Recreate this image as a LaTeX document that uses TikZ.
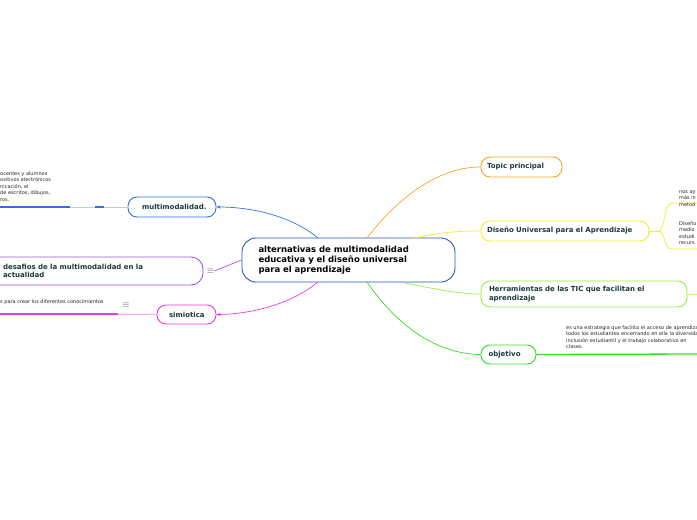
\documentclass[tikz,border=0pt]{standalone}
\usepackage{fontspec}
\setmainfont{DejaVu Sans}
\usetikzlibrary{arrows.meta}
\definecolor{txt}{HTML}{1B3A3A}
\definecolor{cblue}{HTML}{2F6FE6}
\definecolor{cpurp}{HTML}{9B55F0}
\definecolor{cmag}{HTML}{E83AE8}
\definecolor{corg}{HTML}{F5A623}
\definecolor{cyel}{HTML}{EEEE22}
\definecolor{clg}{HTML}{99EE44}
\definecolor{cgr}{HTML}{33DD22}
\tikzset{
 box/.style={draw, rounded corners=9pt, line width=0.9pt, fill=white, text=txt, font=\bfseries\fontsize{7}{8.5}\selectfont, align=left, inner sep=0pt},
 small/.style={font=\fontsize{5}{6.6}\selectfont, align=left, inner sep=0pt, text=black!85},
 menu/.style={font=\fontsize{9}{9}\selectfont, inner sep=0pt, text=black!70},
}
\begin{document}
\begin{tikzpicture}[x=1pt,y=-1pt]
\useasboundingbox (0,0) rectangle (697,520);
\begin{scope}
\clip (0,0) rectangle (697,520);
% central
\node[box, draw=cblue!80!black, rounded corners=14pt, minimum width=213pt, minimum height=44pt, font=\bfseries\fontsize{8.5}{10}\selectfont, text=black, text width=180pt] (c) at (348.5,260) {alternativas de multimodalidad\\educativa y el diseño universal\\para el aprendizaje};
% right
\node[box, draw=corg, minimum width=81pt, minimum height=20pt, text width=69pt] (t) at (521.5,167) {Topic principal};
\node[box, draw=cyel, minimum width=168pt, minimum height=20pt, text width=156pt] (d) at (565,231) {Diseño Universal para el Aprendizaje};
\node[box, draw=clg, minimum width=206pt, minimum height=26pt, text width=190pt] (h) at (584,294) {Herramientas de las TIC que facilitan el\\aprendizaje};
\node[box, draw=cgr, minimum width=55pt, minimum height=19pt, text width=40pt] (o) at (508.5,354.5) {objetivo};
% left
\node[box, draw=cblue, minimum width=88pt, minimum height=20pt, text width=60pt] (m) at (172,207) {multimodalidad.};
\node[box, draw=cpurp, rounded corners=12pt, minimum width=215pt, minimum height=28pt, text width=185pt] (ds) at (95.5,271) {desafios de la multimodalidad en la\\actualidad};
\node[box, draw=cmag, minimum width=59pt, minimum height=19pt, text width=35pt] (s) at (186.5,314.5) {simiotica};
\node[menu] (mn1) at (210.5,271) {$\equiv$};
\node[menu] (mn2) at (126,305) {$\equiv$};
% connectors
\coordinate (c1) at (367,238);
\coordinate (c2) at (410,239);
\coordinate (c3) at (405,283);
\coordinate (c4) at (367,282);
\coordinate (c5) at (318,238);
\coordinate (c6) at (318,282);
\draw[corg, line width=0.7pt] (c1) .. controls (400,195) and (440,167) .. (t.west);
\draw[cyel, line width=0.7pt] (c2) .. controls (440,232) and (460,231) .. (d.west);
\draw[clg, line width=0.7pt] (c3) .. controls (440,290) and (460,294) .. (h.west);
\draw[cgr, line width=0.7pt] (c4) .. controls (400,330) and (440,354) .. (o.west);
\draw[cblue, line width=0.7pt, -{Stealth[length=4pt]}] (c5) .. controls (290,215) and (250,207) .. (m.east);
\draw[cpurp, line width=0.7pt] (c.west) -- (mn1.east);
\draw[cmag, line width=0.7pt, -{Stealth[length=4pt]}] (c6) .. controls (290,305) and (250,314) .. (s.east);
% left details
\coordinate (ml) at (0,207);
\draw[cblue!35, line width=1pt] (m.west) -- (ml);
\draw[cblue, line width=1.3pt] (0,207) -- (70,207) (95,207) -- (104,207);
\node[small, anchor=north west] (mt) at (0,171) {ocentes y alumnos\\ositivos electrónicos\\nicación, el\\de escritos, dibujos,\\ros.};
\coordinate (sl) at (0,314);
\draw[cmag!45, line width=1pt] (s.west) -- (sl);
\draw[cmag, line width=1.3pt] (0,314) -- (118,314);
\node[small, anchor=west] (st) at (0,302) {s para crear los diferentes conocimientos};
% right details
\coordinate (br) at (658,231);
\draw[cyel, line width=0.7pt] (d.east) -- (br);
\coordinate (ya) at (697,203);
\coordinate (yb) at (697,249);
\draw[cyel, line width=0.7pt] (br) .. controls (666,231) and (663,203) .. (672,203) -- (ya);
\draw[cyel, line width=0.7pt] (br) .. controls (666,231) and (663,249) .. (672,249) -- (yb);
\node[small, anchor=north west] (dt1) at (679,190) {nos ay\\más in\\metod};
\node[small, anchor=north west] (dt2) at (679,221) {Diseño\\medio\\estudi\\recurs};
\coordinate (hr) at (697,294);
\draw[clg!60, line width=1pt] (h.east) -- (hr);
\coordinate (orr) at (697,354);
\draw[cgr, line width=1.3pt] (o.east) -- (orr);
\node[small, anchor=north west] (ot) at (566,325) {es una estrategia que facilita el acceso de aprendizaje a\\todos los estudiantes encerrando en ella la diversidad\\inclusión estudiantil y el trabajo colaborativo en\\clases.};
\end{scope}
\end{tikzpicture}
\end{document}
